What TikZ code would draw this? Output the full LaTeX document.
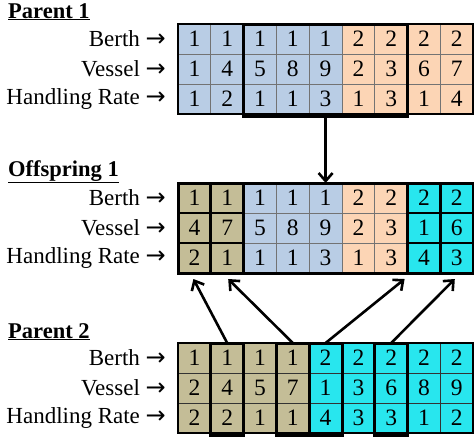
\documentclass[tikz,border=0pt]{standalone}
\usepackage{fontspec}
\setmainfont{Liberation Serif}
\newfontfamily\arrowfont{DejaVu Sans}
\usetikzlibrary{arrows.meta}

\definecolor{blueC}{RGB}{185,205,229}
\definecolor{orangeC}{RGB}{252,213,181}
\definecolor{tanC}{RGB}{196,189,151}
\definecolor{cyanC}{RGB}{40,230,238}

\newcommand{\rarr}{{\arrowfont\fontsize{24}{24}\selectfont →}}

\tikzset{
  cell/.style={draw=black!55, line width=0.7pt, minimum width=32.8pt, minimum height=30pt,
    inner sep=0pt, outer sep=0pt, font=\fontsize{23.5}{24}\selectfont},
  gene/.style={cell, draw=black, line width=1.6pt},
  lbl/.style={anchor=east, inner sep=0pt, font=\fontsize{23}{24}\selectfont},
  ttl/.style={anchor=base west, inner sep=0pt, font=\bfseries\fontsize{22.5}{24}\selectfont},
  box/.style={line width=3pt},
  rim/.style={line width=1.8pt},
}

\begin{document}
\begin{tikzpicture}[x=1pt, y=-1pt, >={Straight Barb[length=8pt,width=14pt]}]
    \useasboundingbox (0,0) rectangle (474,440);

    % Parent 1
    \node[ttl] (t1) at (8,18) {\underline{Parent 1}};
    \node[lbl] (p1-lb) at (166,39) {Berth \rarr};
    \node[lbl] (p1-lv) at (166,69) {Vessel \rarr};
    \node[lbl] (p1-lh) at (166,99) {Handling Rate \rarr};
    \foreach \c/\col/\b/\v/\h in {1/blueC/1/1/1, 2/blueC/1/4/2, 3/blueC/1/5/1,
        4/blueC/1/8/1, 5/blueC/1/9/3, 6/orangeC/2/2/1, 7/orangeC/2/3/3,
        8/orangeC/2/6/1, 9/orangeC/2/7/4} {
      \node[cell, fill=\col] (p1-1-\c) at (161.6+32.8*\c, 39) {\b};
      \node[cell, fill=\col] (p1-2-\c) at (161.6+32.8*\c, 69) {\v};
      \node[cell, fill=\col] (p1-3-\c) at (161.6+32.8*\c, 99) {\h};
    }
    \draw[rim] (p1-1-1.north west) rectangle (p1-3-9.south east);
    \draw[box] (p1-1-3.north west) rectangle ([yshift=-2pt]p1-3-7.south east);

    % Offspring 1
    \node[ttl] (t2) at (8,176) {\underline{Offspring 1}};
    \node[lbl] (o-lb) at (166,198) {Berth \rarr};
    \node[lbl] (o-lv) at (166,228) {Vessel \rarr};
    \node[lbl] (o-lh) at (166,258) {Handling Rate \rarr};
    \foreach \c/\col/\b/\v/\h in {3/blueC/1/5/1, 4/blueC/1/8/1, 5/blueC/1/9/3,
        6/orangeC/2/2/1, 7/orangeC/2/3/3} {
      \node[cell, fill=\col] (o-1-\c) at (161.6+32.8*\c, 198) {\b};
      \node[cell, fill=\col] (o-2-\c) at (161.6+32.8*\c, 228) {\v};
      \node[cell, fill=\col] (o-3-\c) at (161.6+32.8*\c, 258) {\h};
    }
    \foreach \c/\col/\b/\v/\h in {1/tanC/1/4/2, 2/tanC/1/7/1, 8/cyanC/2/1/4, 9/cyanC/2/6/3} {
      \node[gene, fill=\col] (o-1-\c) at (161.6+32.8*\c, 198) {\b};
      \node[gene, fill=\col] (o-2-\c) at (161.6+32.8*\c, 228) {\v};
      \node[gene, fill=\col] (o-3-\c) at (161.6+32.8*\c, 258) {\h};
      \draw[box] (o-1-\c.north west) rectangle (o-3-\c.south east);
    }
    \draw[box] (o-1-3.north west) rectangle (o-3-7.south east);
    \draw[rim] (o-1-1.north west) rectangle (o-3-9.south east);

    % Parent 2
    \node[ttl] (t3) at (8,338) {\underline{Parent 2}};
    \node[lbl] (p2-lb) at (166,358) {Berth \rarr};
    \node[lbl] (p2-lv) at (166,388) {Vessel \rarr};
    \node[lbl] (p2-lh) at (166,418) {Handling Rate \rarr};
    \foreach \c/\col/\b/\v/\h in {1/tanC/1/2/2, 2/tanC/1/4/2, 3/tanC/1/5/1,
        4/tanC/1/7/1, 5/cyanC/2/1/4, 6/cyanC/2/3/3, 7/cyanC/2/6/3,
        8/cyanC/2/8/1, 9/cyanC/2/9/2} {
      \node[cell, draw=black!80, line width=1pt, fill=\col] (p2-1-\c) at (161.6+32.8*\c, 358) {\b};
      \node[cell, draw=black!80, line width=1pt, fill=\col] (p2-2-\c) at (161.6+32.8*\c, 388) {\v};
      \node[cell, draw=black!80, line width=1pt, fill=\col] (p2-3-\c) at (161.6+32.8*\c, 418) {\h};
    }
    \draw[rim] (p2-1-1.north west) rectangle (p2-3-9.south east);
    \foreach \c in {2,4,5,7}
      \draw[box] (p2-1-\c.north west) rectangle ([yshift=-2.5pt]p2-3-\c.south east);

    % Crossover arrows
    \draw[->, line width=2.6pt] (p1-3-5.south) -- (o-1-5.north);
    \draw[->, line width=2.6pt] (p2-1-2.north) -- ([xshift=-1pt,yshift=-6pt]o-3-1.south);
    \draw[->, line width=2.6pt] (p2-1-4.north) -- ([xshift=1pt,yshift=-6pt]o-3-2.south);
    \draw[->, line width=2.6pt] (p2-1-5.north) -- ([xshift=-3pt,yshift=-6pt]o-3-8.south west);
    \draw[->, line width=2.6pt] (p2-1-7.north) -- ([xshift=-2pt,yshift=-6pt]o-3-9.south);
\end{tikzpicture}
\end{document}
